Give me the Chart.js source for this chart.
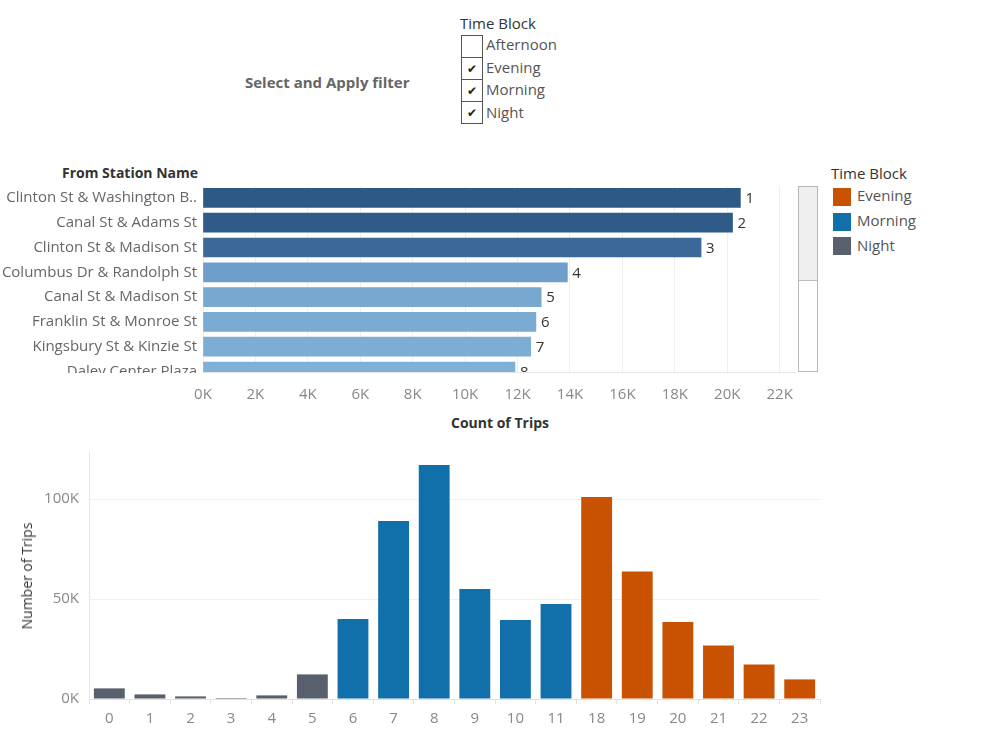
<!DOCTYPE html>
<html>
<head>
<meta charset="utf-8">
<script src="https://cdn.jsdelivr.net/npm/chart.js@4.4.1/dist/chart.umd.min.js"></script>
<style>
  body { margin: 0; background: #fff; font-family: "Open Sans", sans-serif; }
  #page { position: relative; width: 1000px; height: 750px; overflow: hidden; }
  .abs { position: absolute; white-space: nowrap; line-height: 1; }
  .box { position: absolute; left: 461px; width: 20px; height: 21px; border: 1px solid #555; background: #fff;
         font-size: 12px; color: #222; text-align: center; line-height: 21px; }
  .opt { position: absolute; left: 486px; font-size: 15px; color: #555; line-height: 1; }
  .sw { position: absolute; left: 833px; width: 18px; height: 18px; }
  .lg { position: absolute; left: 857px; font-size: 15px; color: #555; line-height: 1; }
  canvas { position: absolute; }
</style>
</head>
<body>
<div id="page">
  <!-- filter -->
  <div class="abs" style="left:245px;top:75px;font-size:15px;font-weight:bold;color:#666;">Select and Apply filter</div>
  <div class="abs" style="left:460px;top:16px;font-size:15px;color:#333;">Time Block</div>
  <div class="box" style="top:35px;"></div>
  <div class="box" style="top:57px;">✔</div>
  <div class="box" style="top:79px;">✔</div>
  <div class="box" style="top:101px;">✔</div>
  <div class="opt" style="top:37px;">Afternoon</div>
  <div class="opt" style="top:60px;">Evening</div>
  <div class="opt" style="top:82px;">Morning</div>
  <div class="opt" style="top:105px;">Night</div>

  <!-- top chart -->
  <div class="abs" style="left:62px;top:166px;font-size:14px;font-weight:bold;color:#333;">From Station Name</div>
  <canvas id="stationChart" width="807" height="250" style="left:0;top:160px;"></canvas>
  <div class="abs" style="left:0;width:1000px;text-align:center;top:416px;font-size:14px;font-weight:bold;color:#333;">Count of Trips</div>
  <div class="abs" style="left:798px;top:186px;width:18px;height:184px;border:1px solid #b8b8b8;background:#fff;">
    <div style="height:93px;background:#efefef;border-bottom:1px solid #bbb;"></div>
  </div>

  <!-- legend -->
  <div class="abs" style="left:831px;top:166px;font-size:15px;color:#333;">Time Block</div>
  <div class="sw" style="top:188px;background:#c85200;"></div>
  <div class="sw" style="top:213px;background:#1170aa;"></div>
  <div class="sw" style="top:237px;background:#57606c;"></div>
  <div class="lg" style="top:188px;">Evening</div>
  <div class="lg" style="top:213px;">Morning</div>
  <div class="lg" style="top:238px;">Night</div>

  <!-- bottom chart -->
  <canvas id="hourChart" width="830" height="300" style="left:0;top:440px;"></canvas>
  <div class="abs" style="top:576px;font-size:14px;color:#333;transform:translate(-50%,-50%) rotate(-90deg);left:27px;">Number of Trips</div>
</div>

<script>
// Top stations (Count of Trips)
const stations = [
  'Clinton St & Washington B..',
  'Canal St & Adams St',
  'Clinton St & Madison St',
  'Columbus Dr & Randolph St',
  'Canal St & Madison St',
  'Franklin St & Monroe St',
  'Kingsbury St & Kinzie St',
  'Daley Center Plaza'
];
const stationTrips = [20500, 20200, 19000, 13900, 12900, 12700, 12500, 11900];
const stationRank = [1, 2, 3, 4, 5, 6, 7, 8];
const stationColors = ['#2c5985', '#2e5b88', '#3b6897', '#6d9fca', '#77a8d0', '#7aabd2', '#7cadd3', '#80b0d6'];
const countTicks = [0, 2000, 4000, 6000, 8000, 10000, 12000, 14000, 16000, 18000, 20000, 22000];

// Trips by hour
const hours = ['0', '1', '2', '3', '4', '5', '6', '7', '8', '9', '10', '11', '18', '19', '20', '21', '22', '23'];
const hourTrips = [5300, 2300, 1300, 500, 1800, 12300, 40000, 89000, 117000, 55000, 39500, 47500,
                   101000, 63800, 38500, 26700, 17200, 9800];
const hourBlock = ['Night', 'Night', 'Night', 'Night', 'Night', 'Night', 'Morning', 'Morning', 'Morning', 'Morning', 'Morning', 'Morning',
                   'Evening', 'Evening', 'Evening', 'Evening', 'Evening', 'Evening'];
const blockColors = { Evening: '#c85200', Morning: '#1170aa', Night: '#57606c' };
const tripTicks = [0, 50000, 100000];

const FONT = '"Open Sans", sans-serif';
const kFmt = v => (v / 1000) + 'K';
const setTicks = arr => s => { s.ticks = arr.map(v => ({ value: v })); };

// rank numbers at bar ends + hide what scrolls out under the plot
const rankLabels = {
  id: 'rankLabels',
  afterDatasetsDraw(chart) {
    const ctx = chart.ctx, area = chart.chartArea;
    ctx.save();
    ctx.beginPath();
    ctx.rect(area.left, area.top, area.right - area.left + 30, area.bottom - area.top);
    ctx.clip();
    ctx.font = '15px ' + FONT;
    ctx.fillStyle = '#333';
    ctx.textBaseline = 'middle';
    chart.getDatasetMeta(0).data.forEach((bar, i) => {
      ctx.fillText(String(stationRank[i]), bar.x + 5, bar.y + 1);
    });
    ctx.restore();
  },
  afterDraw(chart) {
    const ctx = chart.ctx, area = chart.chartArea;
    ctx.save();
    ctx.fillStyle = '#fff';
    ctx.fillRect(0, area.bottom + 1, area.left - 2, 12);
    ctx.restore();
  }
};

new Chart(document.getElementById('stationChart'), {
  type: 'bar',
  data: {
    datasets: [{
      data: stationTrips.map((v, i) => ({ x: v, y: i })),
      backgroundColor: stationColors,
      barThickness: 19
    }]
  },
  options: {
    indexAxis: 'y',
    responsive: false,
    animation: false,
    devicePixelRatio: 1,
    layout: { padding: { top: 26, right: 5, left: 0, bottom: 0 } },
    plugins: { legend: { display: false }, tooltip: { enabled: false } },
    scales: {
      y: {
        type: 'linear',
        bounds: 'data',
        offset: false,
        reverse: true,
        min: -0.48,
        max: 7.02,
        afterBuildTicks: setTicks(stations.map((_, i) => i)),
        afterFit: s => { s.width = 203; },
        grid: { display: false, drawTicks: false },
        border: { display: false },
        ticks: { callback: v => stations[v], color: '#666', font: { family: FONT, size: 15 }, padding: 6 }
      },
      x: {
        bounds: 'data',
        min: 0,
        max: 22600,
        afterBuildTicks: setTicks(countTicks),
        afterFit: s => { s.height = 38; },
        grid: { color: '#efefef', drawTicks: false },
        border: { display: true, color: '#e4e4e4' },
        ticks: { callback: kFmt, color: '#888', font: { family: FONT, size: 15 }, padding: 14, maxRotation: 0, autoSkip: false }
      }
    }
  },
  plugins: [rankLabels]
});

new Chart(document.getElementById('hourChart'), {
  type: 'bar',
  data: {
    labels: hours,
    datasets: [{
      data: hourTrips,
      backgroundColor: hourBlock.map(b => blockColors[b]),
      barPercentage: 1,
      categoryPercentage: 0.76
    }]
  },
  options: {
    responsive: false,
    animation: false,
    devicePixelRatio: 1,
    layout: { padding: { top: 12, right: 10, left: 0, bottom: 0 } },
    plugins: { legend: { display: false }, tooltip: { enabled: false } },
    scales: {
      y: {
        bounds: 'data',
        min: 0,
        max: 123500,
        afterBuildTicks: setTicks(tripTicks),
        afterFit: s => { s.width = 89; s.paddingTop = 0; s.paddingBottom = 0; },
        grid: { color: '#f0f0f0', drawTicks: false },
        border: { display: true, color: '#e6e6e6' },
        ticks: { callback: kFmt, color: '#888', font: { family: FONT, size: 15 }, padding: 10 }
      },
      x: {
        afterFit: s => { s.height = 41; },
        grid: { drawOnChartArea: false, tickLength: 5, color: '#e2e2e2' },
        border: { display: true, color: '#e2e2e2' },
        ticks: { color: '#888', font: { family: FONT, size: 15 }, padding: 6, maxRotation: 0 }
      }
    }
  }
});
</script>
</body>
</html>
